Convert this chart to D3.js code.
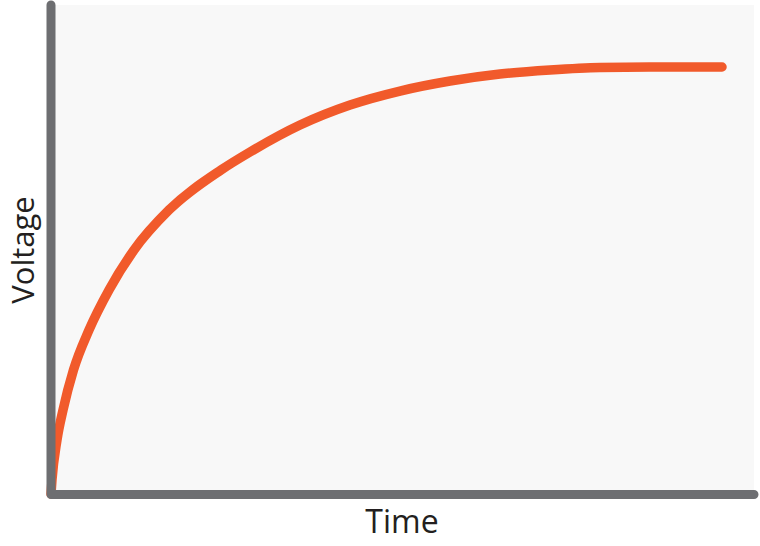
<!DOCTYPE html>
<html>
<head>
<meta charset="utf-8">
<script src="https://cdn.jsdelivr.net/npm/d3@7"></script>
<style>
body{margin:0;background:#ffffff;}
.label{font-family:"Open Sans","Noto Sans",sans-serif;font-size:32px;fill:#231f20;}
</style>
</head>
<body>
<svg></svg>
<script>
//time (percent of the axis) and voltage (percent of the axis)
var times    = [0, 0.14, 0.85, 1.71, 3.20, 5.41, 8.25, 11.81, 16.79, 24.18, 28.31, 35.42, 42.53, 49.64, 56.76, 63.87, 70.98, 78.09, 85.21, 95.45]
var voltages = [0, 2.86, 11.04, 17.18, 25.36, 33.54, 41.72, 49.90, 58.08, 66.26, 69.94, 75.46, 79.55, 82.41, 84.46, 85.89, 86.71, 87.22, 87.32, 87.32]
var axisNames = {x:"Time", y:"Voltage"}

var screen = {width:760,height:546}
var margins = {left:51,right:6,top:5,bottom:52}

var graph =
    {
        width:screen.width-margins.left-margins.right,
        height:screen.height-margins.top-margins.bottom
    }

var svg = d3.select("svg")
    .attr("width",screen.width)
    .attr("height",screen.height)

var xScale = d3.scaleLinear()
    .domain([0,100])
    .range([margins.left,margins.left+graph.width])

var yScale = d3.scaleLinear()
    .domain([0,100])
    .range([margins.top+graph.height,margins.top])

//plot background
svg.append("rect")
    .attr("x",xScale(0))
    .attr("y",yScale(100))
    .attr("width",xScale(100)-xScale(0))
    .attr("height",yScale(0)-yScale(100))
    .attr("fill","#f8f8f8")

//the charging curve
var points = times.map(function(t,i){return {t:t,v:voltages[i]}})

var line = d3.line()
    .x(function(d){return xScale(d.t)})
    .y(function(d){return yScale(d.v)})
    .curve(d3.curveMonotoneX)

svg.append("path")
    .datum(points)
    .attr("d",line)
    .attr("fill","none")
    .attr("stroke","#f15a2b")
    .attr("stroke-width",9.5)
    .attr("stroke-linecap","round")
    .attr("stroke-linejoin","round")

//axes drawn over the curve so its start tucks under them
var axisLine = d3.line()
    .x(function(d){return xScale(d[0])})
    .y(function(d){return yScale(d[1])})

svg.append("path")
    .datum([[0,100],[0,-0.1],[100,-0.1]])
    .attr("d",axisLine)
    .attr("fill","none")
    .attr("stroke","#6d6e71")
    .attr("stroke-width",9)
    .attr("stroke-linecap","round")
    .attr("stroke-linejoin","round")

//labels
svg.append("text")
    .text(axisNames.x)
    .classed("label",true)
    .attr("text-anchor","middle")
    .attr("x",402)
    .attr("y",533)

svg.append("g")
    .attr("transform","translate(34,250)")
    .append("text")
    .text(axisNames.y)
    .classed("label",true)
    .style("font-size","31px")
    .attr("text-anchor","middle")
    .attr("transform","rotate(270)")
</script>
</body>
</html>
